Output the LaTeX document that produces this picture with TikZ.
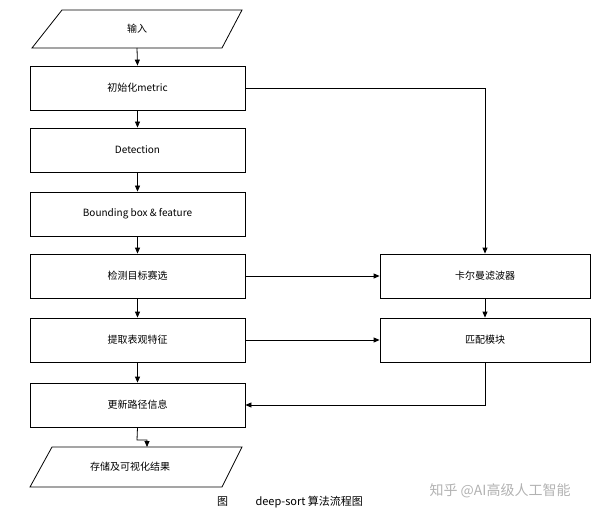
\documentclass[tikz,border=0pt]{standalone}
\usepackage{fontspec}
\setmainfont{Noto Sans CJK SC}
\usetikzlibrary{arrows.meta}
\begin{document}
\begin{tikzpicture}[x=1pt,y=-1pt,
  box/.style={draw,thick,minimum width=215pt,minimum height=44pt,font=\fontsize{10}{12}\selectfont,inner sep=0pt},
  rbox/.style={box,minimum width=210pt},
  arr/.style={-{Triangle[length=6pt,width=5pt]},line width=0.8pt},
  lbl/.style={font=\fontsize{10}{12}\selectfont}]
\useasboundingbox (0,0) rectangle (600,516);
\draw[thick] (62,10) -- (242,10) -- (222,48) -- (32,48) -- cycle;
\node[lbl] (in) at (137,29) {输入};
\node[box] (m) at (137.5,88) {初始化metric};
\node[box] (d) at (137.5,150) {Detection};
\node[box] (b) at (137.5,214) {Bounding box \& feature};
\node[box] (s) at (137.5,276) {检测目标赛选};
\node[box] (f) at (137.5,340) {提取表观特征};
\node[box] (u) at (137.5,405) {更新路径信息};
\draw[thick] (52,447) -- (242,447) -- (222,487) -- (30,487) -- cycle;
\node[lbl] (o) at (130,467) {存储及可视化结果};
\node[rbox] (k) at (485,276) {卡尔曼滤波器};
\node[rbox] (p) at (485,340) {匹配模块};
\coordinate (ot) at (147,447);
\coordinate (it) at (137,48);
\draw[arr] (it) -- (m.north);
\draw[arr] (m) -- (d);
\draw[arr] (d) -- (b);
\draw[arr] (b) -- (s);
\draw[arr] (s) -- (f);
\draw[arr] (f) -- (u);
\draw[arr] (u.south) -- (137,440) -- (147,440) -- (ot);
\draw[arr] (m.east) -- (485,88) -- (k.north);
\draw[arr] (s.east) -- (k.west);
\draw[arr] (f.east) -- (p.west);
\draw[arr] (k) -- (p);
\draw[arr] (p.south) -- (485,405) -- (u.east);
\node[font=\fontsize{11}{13}\selectfont] (cap) at (290,502) {图\hspace{2.5em}deep-sort 算法流程图};
\node[font=\fontsize{14}{16}\selectfont,text=gray!60] (wm) at (500,491) {知乎 @AI高级人工智能};
\end{tikzpicture}
\end{document}
